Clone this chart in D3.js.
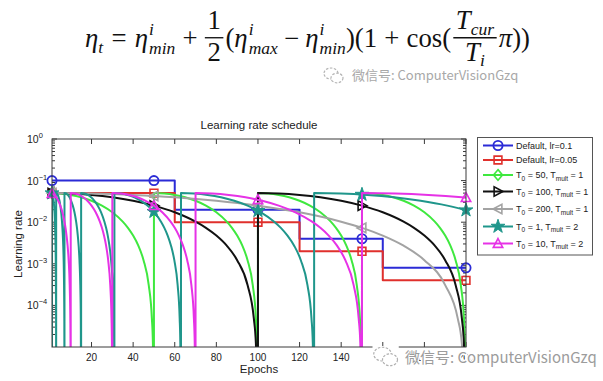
<!DOCTYPE html>
<html><head><meta charset="utf-8">
<script src="https://cdn.jsdelivr.net/npm/d3@7"></script>
<style>body{margin:0;background:#fff} svg{display:block}</style>
</head><body>
<svg id="c" width="603" height="381"></svg>
<script>
// ---------------- data ----------------
const xTickValues = [20, 40, 60, 80, 100, 120, 140, 160, 180, 200];
const yTickValues = [1, 0.1, 0.01, 0.001, 0.0001];
const yTickExponents = ["0", "\u22121", "\u22122", "\u22123", "\u22124"];
const markerEpochs = [1, 50, 100, 150, 200];

const seriesLabels = [
  "Default, lr=0.1", "Default, lr=0.05",
  "T_0 = 50, T_mult = 1", "T_0 = 100, T_mult = 1", "T_0 = 200, T_mult = 1",
  "T_0 = 1, T_mult = 2", "T_0 = 10, T_mult = 2"
];
const seriesColors = ["#2b2bd6", "#e0302c", "#3fe83f", "#111111", "#a3a3a3", "#1f968b", "#e632e6"];
const seriesMarkers = ["circle", "square", "diamond", "triRight", "triLeft", "star", "triUp"];

// [epoch, learning rate]; 1e-7 marks the end of a cycle (rate ~0, below the axis)
const lrDefault01 = [[1,0.1],[60,0.1],[60,0.02],[120,0.02],[120,0.004],[160,0.004],[160,0.0008],[200,0.0008]];
const lrDefault005 = [[1,0.05],[60,0.05],[60,0.01],[120,0.01],[120,0.002],[160,0.002],[160,0.0004],[200,0.0004]];
const lrT50 = [
  [1,0.05],[5,0.0488],[10,0.0452],[15,0.0397],[20,0.0327],[25,0.025],[30,0.0173],[35,0.0103],[37.5,0.00732],[40,0.00477],[42.5,0.00273],[45,0.00122],[47.5,0.000308],[49,0.0000493],[49.5,0.0000123],[50,1e-7],
  [50,0.05],[55,0.0488],[60,0.0452],[65,0.0397],[70,0.0327],[75,0.025],[80,0.0173],[85,0.0103],[87.5,0.00732],[90,0.00477],[92.5,0.00273],[95,0.00122],[97.5,0.000308],[99,0.0000493],[99.5,0.0000123],[100,1e-7],
  [100,0.05],[105,0.0488],[110,0.0452],[115,0.0397],[120,0.0327],[125,0.025],[130,0.0173],[135,0.0103],[137.5,0.00732],[140,0.00477],[142.5,0.00273],[145,0.00122],[147.5,0.000308],[149,0.0000493],[149.5,0.0000123],[150,1e-7],
  [150,0.05],[155,0.0488],[160,0.0452],[165,0.0397],[170,0.0327],[175,0.025],[180,0.0173],[185,0.0103],[187.5,0.00732],[190,0.00477],[192.5,0.00273],[195,0.00122],[197.5,0.000308],[199,0.0000493],[199.5,0.0000123],[200,1e-7]
];
const lrT100 = [
  [1,0.05],[10,0.0488],[20,0.0452],[30,0.0397],[40,0.0327],[50,0.025],[60,0.0173],[70,0.0103],[75,0.00732],[80,0.00477],[85,0.00273],[90,0.00122],[95,0.000308],[98,0.0000493],[99,0.0000123],[100,1e-7],
  [100,0.05],[110,0.0488],[120,0.0452],[130,0.0397],[140,0.0327],[150,0.025],[160,0.0173],[170,0.0103],[175,0.00732],[180,0.00477],[185,0.00273],[190,0.00122],[195,0.000308],[198,0.0000493],[199,0.0000123],[200,1e-7]
];
const lrT200 = [
  [1,0.05],[20,0.0488],[40,0.0452],[60,0.0397],[80,0.0327],[100,0.025],[120,0.0173],[140,0.0103],[150,0.00732],[160,0.00477],[170,0.00273],[180,0.00122],[190,0.000308],[196,0.0000493],[198,0.0000123],[200,1e-7]
];
const lrT1m2 = [
  [1,1e-7],[1,0.05],[1.6,0.0397],[2,0.025],[2.4,0.0103],[2.8,0.00122],[2.96,0.0000493],[3,1e-7],
  [3,0.05],[4.2,0.0397],[5,0.025],[5.8,0.0103],[6.6,0.00122],[6.92,0.0000493],[7,1e-7],
  [7,0.05],[8.6,0.0452],[10.2,0.0327],[11,0.025],[11.8,0.0173],[12.6,0.0103],[13.4,0.00477],[14.2,0.00122],[14.6,0.000308],[14.84,0.0000493],[15,1e-7],
  [15,0.05],[16.6,0.0488],[18.2,0.0452],[19.8,0.0397],[21.4,0.0327],[23,0.025],[24.6,0.0173],[26.2,0.0103],[27,0.00732],[27.8,0.00477],[28.6,0.00273],[29.4,0.00122],[30.2,0.000308],[30.68,0.0000493],[30.84,0.0000123],[31,1e-7],
  [31,0.05],[34.2,0.0488],[37.4,0.0452],[40.6,0.0397],[43.8,0.0327],[47,0.025],[50.2,0.0173],[53.4,0.0103],[55,0.00732],[56.6,0.00477],[58.2,0.00273],[59.8,0.00122],[61.4,0.000308],[62.36,0.0000493],[62.68,0.0000123],[63,1e-7],
  [63,0.05],[69.4,0.0488],[75.8,0.0452],[82.2,0.0397],[88.6,0.0327],[95,0.025],[101.4,0.0173],[107.8,0.0103],[111,0.00732],[114.2,0.00477],[117.4,0.00273],[120.6,0.00122],[123.8,0.000308],[125.72,0.0000493],[126.36,0.0000123],[127,1e-7],
  [127,0.05],[139.8,0.0488],[152.6,0.0452],[165.4,0.0397],[178.2,0.0327],[191,0.025],[200,0.0195]
];
const lrT10m2 = [
  [1,0.0488],[2,0.0452],[3,0.0397],[4,0.0327],[5,0.025],[6,0.0173],[7,0.0103],[7.5,0.00732],[8,0.00477],[8.5,0.00273],[9,0.00122],[9.5,0.000308],[9.8,0.0000493],[9.9,0.0000123],[10,1e-7],
  [10,0.05],[12,0.0488],[14,0.0452],[16,0.0397],[18,0.0327],[20,0.025],[22,0.0173],[24,0.0103],[25,0.00732],[26,0.00477],[27,0.00273],[28,0.00122],[29,0.000308],[29.6,0.0000493],[29.8,0.0000123],[30,1e-7],
  [30,0.05],[34,0.0488],[38,0.0452],[42,0.0397],[46,0.0327],[50,0.025],[54,0.0173],[58,0.0103],[60,0.00732],[62,0.00477],[64,0.00273],[66,0.00122],[68,0.000308],[69.2,0.0000493],[69.6,0.0000123],[70,1e-7],
  [70,0.05],[78,0.0488],[86,0.0452],[94,0.0397],[102,0.0327],[110,0.025],[118,0.0173],[126,0.0103],[130,0.00732],[134,0.00477],[138,0.00273],[142,0.00122],[146,0.000308],[148.4,0.0000493],[149.2,0.0000123],[150,1e-7],
  [150,0.05],[166,0.0488],[182,0.0452],[198,0.0397],[200,0.0389]
];
const seriesData = [lrDefault01, lrDefault005, lrT50, lrT100, lrT200, lrT1m2, lrT10m2];
// marker values at epochs 1, 50, 100, 150, 200 (null = rate ~0, not drawn)
const markerValues = [
  [0.1, 0.1, 0.02, 0.004, 0.0008],
  [0.05, 0.05, 0.01, 0.002, 0.0004],
  [0.05, null, null, null, null],
  [0.05, 0.025, null, 0.025, null],
  [0.05, 0.0427, 0.025, 0.0073, null],
  [0.05, 0.0179, 0.0188, 0.0462, 0.0195],
  [0.0488, 0.025, 0.0347, null, 0.0389]
];

// ---------------- layout ----------------
const svg = d3.select("#c");
const L = 52, R = 466, T = 139, B = 347;
const x = d3.scaleLinear().domain([1, 200]).range([L, R]);
const y = d3.scaleLog().domain([1e-5, 1]).range([B, T]);
const sans = "'Liberation Sans', Arial, sans-serif";
const axisCol = "#3a3a3a", textCol = "#222";

svg.append("rect").attr("width", 603).attr("height", 381).attr("fill", "#fff");

// ---------------- formula ----------------
(function formula() {
  const g = svg.append("g").attr("font-family", "'Liberation Serif', 'DejaVu Serif', serif").attr("fill", "#111");
  const fs = 26, ss = 17;
  let cx = 0;
  function put(txt, o) {
    o = o || {};
    const t = g.append("text").attr("x", o.x != null ? o.x : cx).attr("y", o.y || 0)
      .attr("font-size", o.size || fs).attr("font-style", o.it ? "italic" : "normal").text(txt);
    const w = t.node().getComputedTextLength();
    if (!o.stay) cx += w;
    return w;
  }
  function gap(w) { cx += w; }
  function supsub(sup, sub) {
    const x0 = cx + 1;
    const w1 = put(sup, {x: x0, y: -12, size: ss, it: true, stay: true});
    const w2 = put(sub, {x: x0, y: 7, size: ss, it: true, stay: true});
    cx = x0 + Math.max(w1, w2);
  }
  function frac(numFn, denFn) {
    const x0 = cx + 2;
    const ax = -9;
    const gn = g.append("g"), gd = g.append("g");
    cx = 0;
    const nStart = g.selectAll("text").size();
    numFn();
    const nw = cx;
    const nodesN = g.selectAll("text").nodes().slice(nStart);
    cx = 0;
    const dStart = g.selectAll("text").size();
    denFn();
    const dw = cx;
    const nodesD = g.selectAll("text").nodes().slice(dStart);
    const bw = Math.max(nw, dw) + 5;
    nodesN.forEach(n => { gn.node().appendChild(n); });
    nodesD.forEach(n => { gd.node().appendChild(n); });
    gn.attr("transform", `translate(${x0 + (bw - nw) / 2},${ax - 8})`);
    gd.attr("transform", `translate(${x0 + (bw - dw) / 2},${ax + 23})`);
    g.append("line").attr("x1", x0).attr("x2", x0 + bw).attr("y1", ax).attr("y2", ax)
      .attr("stroke", "#111").attr("stroke-width", 1.3);
    cx = x0 + bw + 2;
  }
  put("\u03b7", {it: true}); put("t", {y: 6, size: ss, it: true}); gap(8);
  put("="); gap(8);
  put("\u03b7", {it: true}); supsub("i", "min"); gap(7);
  put("+"); gap(5);
  frac(() => put("1"), () => put("2"));
  put("("); put("\u03b7", {it: true}); supsub("i", "max"); gap(6);
  put("\u2212"); gap(6);
  put("\u03b7", {it: true}); supsub("i", "min");
  put(")("); put("1"); gap(7); put("+"); gap(7); put("cos(");
  frac(() => { put("T", {it: true}); put("cur", {y: 5, size: ss, it: true}); },
       () => { put("T", {it: true}); put("i", {y: 4, size: ss, it: true}); });
  put("\u03c0", {it: true}); put("))");
  const W = cx, s = 445 / W;
  g.attr("transform", `translate(85,47) scale(${s})`);
})();

// ---------------- watermarks ----------------
function wechatIcon(cx, cy, k, col) {
  const gi = svg.append("g").attr("fill", "#fff").attr("stroke", col).attr("stroke-width", 1.2)
    .attr("stroke-dasharray", "2.5,1.5");
  gi.append("rect").attr("x", cx - 10 * k).attr("y", cy - 8 * k).attr("width", 21 * k).attr("height", 17 * k)
    .attr("stroke", "none");
  gi.append("ellipse").attr("cx", cx - 2 * k).attr("cy", cy - 1.5 * k).attr("rx", 7 * k).attr("ry", 5.5 * k);
  gi.append("ellipse").attr("cx", cx + 4 * k).attr("cy", cy + 3 * k).attr("rx", 6 * k).attr("ry", 4.8 * k);
}
wechatIcon(333, 75, 1, "#b5b5b5");
svg.append("text").attr("x", 352).attr("y", 80).attr("font-family", "'Noto Sans CJK SC', sans-serif")
  .attr("font-size", 13).attr("fill", "#a8a8a8").text("\u5fae\u4fe1\u53f7: ComputerVisionGzq");

// ---------------- axes ----------------
const clipId = "plotclip";
svg.append("clipPath").attr("id", clipId).append("rect").attr("x", L).attr("y", T).attr("width", R - L).attr("height", B - T);

const axG = svg.append("g").attr("stroke", axisCol).attr("stroke-width", 1);
xTickValues.forEach(v => {
  axG.append("line").attr("x1", x(v)).attr("x2", x(v)).attr("y1", B).attr("y2", B - 5);
  axG.append("line").attr("x1", x(v)).attr("x2", x(v)).attr("y1", T).attr("y2", T + 5);
});
for (let d = -5; d <= -1; d++) {
  for (let k = 2; k <= 9; k++) {
    const v = k * Math.pow(10, d);
    axG.append("line").attr("x1", L).attr("x2", L + 3).attr("y1", y(v)).attr("y2", y(v));
    axG.append("line").attr("x1", R).attr("x2", R - 3).attr("y1", y(v)).attr("y2", y(v));
  }
}
yTickValues.forEach(v => {
  axG.append("line").attr("x1", L).attr("x2", L + 5).attr("y1", y(v)).attr("y2", y(v));
  axG.append("line").attr("x1", R).attr("x2", R - 5).attr("y1", y(v)).attr("y2", y(v));
});

const xl = svg.append("g").attr("font-family", sans).attr("font-size", 10).attr("fill", textCol).attr("text-anchor", "middle");
xTickValues.forEach(v => xl.append("text").attr("x", x(v)).attr("y", B + 14).text(v));
const yl = svg.append("g").attr("font-family", sans).attr("fill", textCol);
yTickValues.forEach((v, i) => {
  const t = yl.append("text").attr("x", 27).attr("y", y(v) + 4).attr("font-size", 10.5);
  t.append("tspan").text("10");
  t.append("tspan").attr("dy", -5).attr("font-size", 7.5).text(yTickExponents[i]);
});

svg.append("text").attr("x", 259).attr("y", 129).attr("text-anchor", "middle").attr("font-family", sans)
  .attr("font-size", 11.5).attr("fill", textCol).text("Learning rate schedule");
svg.append("text").attr("x", 259).attr("y", 373).attr("text-anchor", "middle").attr("font-family", sans)
  .attr("font-size", 11.5).attr("fill", textCol).text("Epochs");
svg.append("text").attr("transform", `translate(22,${(T + B) / 2 + 1}) rotate(-90)`).attr("text-anchor", "middle")
  .attr("font-family", sans).attr("font-size", 11.5).attr("fill", textCol).text("Learning rate");

// ---------------- markers ----------------
function markerPath(type, s) {
  switch (type) {
    case "square": return `M${-s},${-s}H${s}V${s}H${-s}Z`;
    case "diamond": return `M0,${-s * 1.25}L${s * 1.05},0L0,${s * 1.25}L${-s * 1.05},0Z`;
    case "triRight": return `M${s * 1.15},0L${-s * 0.9},${-s * 1.1}L${-s * 0.9},${s * 1.1}Z`;
    case "triLeft": return `M${-s * 1.15},0L${s * 0.9},${-s * 1.1}L${s * 0.9},${s * 1.1}Z`;
    case "triUp": return `M0,${-s * 1.15}L${s * 1.1},${s * 0.9}L${-s * 1.1},${s * 0.9}Z`;
    case "star": return d3.symbol(d3.symbolStar, s * s * 3.2)();
    default: return null;
  }
}
function drawMarker(g, type, cx, cy, col) {
  if (type === "circle") {
    g.append("circle").attr("cx", cx).attr("cy", cy).attr("r", 4.6).attr("fill", "none")
      .attr("stroke", col).attr("stroke-width", 1.8);
  } else {
    const filled = type === "star";
    g.append("path").attr("d", markerPath(type, type === "square" ? 3.9 : 4.3))
      .attr("transform", `translate(${cx},${cy})`)
      .attr("fill", filled ? col : "none").attr("stroke", col).attr("stroke-width", filled ? 1 : 1.6)
      .attr("stroke-linejoin", "miter");
  }
}

// ---------------- series ----------------
const line = d3.line().x(d => x(d[0])).y(d => y(d[1])).curve(d3.curveMonotoneX);
const lineStep = d3.line().x(d => x(d[0])).y(d => y(d[1]));
const plotG = svg.append("g");
seriesData.forEach((data, i) => {
  plotG.append("path").attr("d", (i < 2 ? lineStep : line)(data)).attr("clip-path", `url(#${clipId})`)
    .attr("fill", "none").attr("stroke", seriesColors[i]).attr("stroke-width", 2)
    .attr("stroke-linejoin", "round");
  markerValues[i].forEach((v, j) => {
    if (v == null) return;
    drawMarker(plotG, seriesMarkers[i], x(markerEpochs[j]), y(v), seriesColors[i]);
  });
});

svg.append("rect").attr("x", L).attr("y", T).attr("width", R - L).attr("height", B - T)
  .attr("fill", "none").attr("stroke", axisCol).attr("stroke-width", 1);

// ---------------- legend ----------------
const lg = svg.append("g");
lg.append("rect").attr("x", 477.5).attr("y", 137.5).attr("width", 115).attr("height", 117.5)
  .attr("fill", "#fff").attr("stroke", "#555").attr("stroke-width", 1);
const legendY = [145.5, 160, 175, 191.5, 209, 226.5, 243.5];
seriesLabels.forEach((lab, i) => {
  const yy = legendY[i];
  lg.append("line").attr("x1", 483).attr("x2", 513).attr("y1", yy).attr("y2", yy)
    .attr("stroke", seriesColors[i]).attr("stroke-width", 2);
  drawMarker(lg, seriesMarkers[i], 498, yy, seriesColors[i]);
  const t = lg.append("text").attr("x", 516).attr("y", yy + 3.2).attr("font-family", sans)
    .attr("font-size", 9).attr("fill", textCol);
  const parts = lab.split(/_(\w+)/);
  parts.forEach((p, k) => {
    if (k % 2 === 0) {
      t.append("tspan").attr("dy", k === 0 ? 0 : -2.5).text(p);
    } else {
      t.append("tspan").attr("dy", 2.5).attr("font-size", 6.5).text(p);
    }
  });
});

// bottom watermark (covers part of the tick labels, as in the source image)
wechatIcon(385, 356, 1.25, "#b0b0b0");
svg.append("text").attr("x", 405).attr("y", 363).attr("font-family", "'Noto Sans CJK SC', sans-serif")
  .attr("font-size", 15).attr("fill", "#9c9c9c").attr("stroke", "#fff").attr("stroke-width", 3)
  .attr("paint-order", "stroke").text("\u5fae\u4fe1\u53f7: ComputerVisionGzq");
</script>
</body></html>
